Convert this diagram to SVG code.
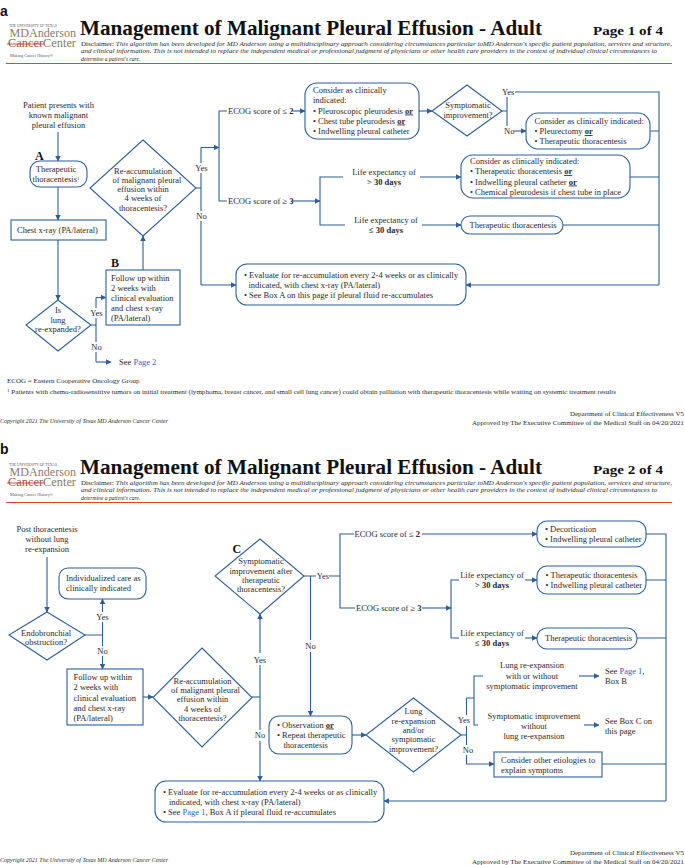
<svg xmlns="http://www.w3.org/2000/svg" width="685" height="865" viewBox="0 0 685 865">
<style>
text{font-family:"Liberation Serif","Times New Roman",serif;font-size:8.5px;fill:#2a2a2a}
.s{fill:#fff;stroke:#2f5e98;stroke-width:1.1}
.c{fill:none;stroke:#2f5e98;stroke-width:1.1}
.a{marker-end:url(#ah)}
.m{text-anchor:middle}
.lk{fill:#2f62c0}
.pl{font-family:"Liberation Sans",Arial,sans-serif;font-size:14px;font-weight:bold;fill:#111}
.t{font-size:22px;font-weight:bold;fill:#111}
.pg{font-size:13px;font-weight:bold;fill:#111}
.d{font-size:5.6px;font-style:italic}
.h{font-size:12px;font-weight:bold;fill:#111}
.f{font-size:5.4px}
.r{font-size:7px;text-anchor:end}
.l1{font-size:13px;fill:#8a7c70}
.l2{font-size:13px;fill:#9c5a50}
.l3{font-size:3.4px;fill:#555}
.b{font-weight:bold}
.u{font-weight:bold;text-decoration:underline}
</style>
<defs>
<marker id="ah" viewBox="0 0 6 6" refX="5.5" refY="3" markerWidth="5.500" markerHeight="5.500" markerUnits="userSpaceOnUse" orient="auto"><path d="M0 0L6 3L0 6Z" fill="#2f5e98"/></marker>
<g id="hdr">
<text class="l3" x="9" y="26.500" textLength="48" lengthAdjust="spacingAndGlyphs">THE UNIVERSITY OF TEXAS</text>
<text class="l1" x="9.500" y="37" textLength="66.500" lengthAdjust="spacingAndGlyphs">MDAnderson</text>
<text class="l1" x="8" y="47" textLength="68" lengthAdjust="spacingAndGlyphs"><tspan class="l2">Cancer</tspan>Center</text>
<path d="M7 44H44" stroke="#c8281e" stroke-width="0.8" fill="none"/>
<text class="l3" x="10" y="57" textLength="43" lengthAdjust="spacingAndGlyphs">Making Cancer History®</text>
<text class="t" x="80" y="35" textLength="462" lengthAdjust="spacingAndGlyphs">Management of Malignant Pleural Effusion - Adult</text>
<text class="d" x="81" y="46" textLength="591" lengthAdjust="spacingAndGlyphs"><tspan font-style="normal">Disclaimer: </tspan>This algorithm has been developed for MD Anderson using a multidisciplinary approach considering circumstances particular toMD Anderson's specific patient population, services and structure,</text>
<text class="d" x="81" y="53" textLength="576" lengthAdjust="spacingAndGlyphs">and clinical information. This is not intended to replace the independent medical or professional judgment of physicians or other health care providers in the context of individual clinical circumstances to</text>
<text class="d" x="81" y="60.500">determine a patient's care.</text>
<path d="M6 63.500H672" stroke="#e0482e" stroke-width="1.200" fill="none"/>
</g>
</defs>
<rect width="685" height="865" fill="#fff"/>

<text class="pl" x="0" y="15.500">a</text>
<use href="#hdr"/>
<text class="pg" x="593" y="35" textLength="70" lengthAdjust="spacingAndGlyphs">Page 1 of 4</text>

<g id="connectors-a">
<path class="c a" d="M58 132V161"/>
<path class="c a" d="M58 187V220"/>
<path class="c a" d="M58 240V300"/>
<path class="c" d="M91 325H96M96 297.500V308M96 318V342M96 352V362"/>
<path class="c a" d="M96 297.500H106"/>
<path class="c a" d="M96 362H111"/>
<path class="c a" d="M143 270V236"/>
<path class="c" d="M196 188H201M201 147.500V163M201 173V211M201 221V285"/>
<path class="c a" d="M201 147.500H219"/>
<path class="c a" d="M201 285H236"/>
<path class="c" d="M227 111H219V201H227"/>
<path class="c a" d="M293 111H305"/>
<path class="c a" d="M292 201H320"/>
<path class="c" d="M343 177H320V225H345"/>
<path class="c a" d="M420 177H461"/>
<path class="c a" d="M422 225H461"/>
<path class="c a" d="M419 111H432"/>
<path class="c" d="M502 111H507M507 97V126M515 92H659V285"/>
<path class="c a" d="M514 131H526"/>
<path class="c" d="M650 131H659M630 177H659M563 225H659"/>
<path class="c a" d="M659 285H466"/>
</g>

<g id="a-start"><text class="m" x="58.500" y="108">Patient presents with</text><text class="m" x="58.500" y="118">known malignant</text><text class="m" x="58.500" y="128">pleural effusion</text></g>
<g id="a-thora"><rect class="s" x="30" y="161" width="57" height="26" rx="10"/><text class="m" x="56" y="171.500">Therapeutic</text><text class="m" x="56" y="182">thoracentesis<tspan font-size="5" dy="-2.500">1</tspan></text></g>
<text class="h" x="35" y="160">A</text>
<g id="a-xray"><rect class="s" x="11" y="220" width="95" height="20"/><text class="m" x="57.500" y="232.500">Chest x-ray (PA/lateral)</text></g>
<g id="a-lung"><polygon class="s" points="58,300 91,325 58,351 26,325"/><text class="m" x="58" y="313">Is</text><text class="m" x="58" y="322.500">lung</text><text class="m" x="58" y="331.500">re-expanded?</text></g>
<g id="a-follow"><rect class="s" x="106" y="270" width="74" height="55"/><text x="111" y="281">Follow up within</text><text x="111" y="291">2 weeks with</text><text x="111" y="301">clinical evaluation</text><text x="111" y="311">and chest x-ray</text><text x="111" y="321">(PA/lateral)</text></g>
<text class="h" x="111" y="267">B</text>
<g id="a-reacc"><polygon class="s" points="143,140 196,188 143,236 90,188"/><text class="m" x="143" y="174">Re-accumulation</text><text class="m" x="147" y="183">of malignant pleural</text><text class="m" x="143" y="192">effusion within</text><text class="m" x="143" y="201">4 weeks of</text><text class="m" x="143" y="211">thoracentesis?</text></g>
<g id="a-labels"><text class="m" x="201.500" y="171">Yes</text><text class="m" x="201.500" y="219">No</text><text class="m" x="96.500" y="316">Yes</text><text class="m" x="96.500" y="350">No</text></g>
<text x="119" y="365">See <tspan class="lk">Page 2</tspan></text>
<g id="a-ecog1"><text x="228" y="113.500">ECOG score of ≤ <tspan class="b">2</tspan></text></g>
<g id="a-ecog2"><text x="228" y="204">ECOG score of ≥ <tspan class="b">3</tspan></text></g>
<g id="a-life1"><text class="m" x="384" y="174.500">Life expectancy of</text><text class="m b" x="384" y="184.500">&gt; 30 days</text></g>
<g id="a-life2"><text class="m" x="386" y="222.500">Life expectancy of</text><text class="m b" x="386" y="232.500">≤ 30 days</text></g>
<g id="a-cons1"><rect class="s" x="305" y="83" width="114" height="56" rx="12"/><text x="313" y="93">Consider as clinically</text><text x="313" y="103">indicated:</text><text x="313" y="113.500">• Pleuroscopic pleurodesis <tspan class="u">or</tspan></text><text x="313" y="123.500">• Chest tube pleurodesis <tspan class="u">or</tspan></text><text x="313" y="134">• Indwelling pleural catheter</text></g>
<g id="a-sympt"><polygon class="s" points="467,85 502,111 467,136 432,111"/><text class="m" x="468" y="108">Symptomatic</text><text class="m" x="468" y="118">improvement?</text></g>
<text x="502" y="94.500">Yes</text><text x="504" y="133.500">No</text>
<g id="a-cons2"><rect class="s" x="526" y="113" width="124" height="36" rx="12"/><text x="534.500" y="123.500">Consider as clinically indicated:</text><text x="534.500" y="134">• Pleurectomy <tspan class="u">or</tspan></text><text x="534.500" y="144">• Therapeutic thoracentesis</text></g>
<g id="a-cons3"><rect class="s" x="461" y="155" width="169" height="43" rx="12"/><text x="470" y="164">Consider as clinically indicated:</text><text x="470" y="174">• Therapeutic thoracentesis <tspan class="u">or</tspan></text><text x="470" y="184.500">• Indwelling pleural catheter <tspan class="u">or</tspan></text><text x="470" y="194.500">• Chemical pleurodesis if chest tube in place</text></g>
<g id="a-thera"><rect class="s" x="461" y="216" width="102" height="18" rx="9"/><text x="469.500" y="227.500">Therapeutic thoracentesis</text></g>
<g id="a-eval"><rect class="s" x="236" y="264" width="230" height="41" rx="11"/><text x="244" y="277.500">• Evaluate for re-accumulation every 2-4 weeks or as clinically</text><text x="248.500" y="287.500">indicated, with chest x-ray (PA/lateral)</text><text x="244" y="298">• See Box A on this page if pleural fluid re-accumulates</text></g>

<text x="7" y="382.500" style="font-size:7px">ECOG = Eastern Cooperative Oncology Group</text>
<text class="f" x="7" y="394" textLength="609" lengthAdjust="spacingAndGlyphs"><tspan font-size="4" dy="-2">1</tspan><tspan dy="2"> Patients with chemo-radiosensitive tumors on initial treatment (lymphoma, breast cancer, and small cell lung cancer) could obtain palliation with therapeutic thoracentesis while waiting on systemic treatment results</tspan></text>
<text class="f" x="0" y="423" font-style="italic" textLength="168" lengthAdjust="spacingAndGlyphs">Copyright 2021 The University of Texas MD Anderson Cancer Center</text>
<text class="r" x="684" y="416">Department of Clinical Effectiveness V5</text>
<text class="r" x="684" y="425">Approved by The Executive Committee of the Medical Staff on 04/20/2021</text>

<text class="pl" x="0" y="454">b</text>
<use href="#hdr" y="439"/>
<text class="pg" x="593" y="474" textLength="70" lengthAdjust="spacingAndGlyphs">Page 2 of 4</text>

<g id="connectors-b">
<path class="c a" d="M47 557V612"/>
<path class="c" d="M85 635H102.500V622"/>
<path class="c a" d="M102.500 612V599"/>
<path class="c" d="M102.500 635V646"/>
<path class="c a" d="M102.500 656V669"/>
<path class="c a" d="M143 697H153"/>
<path class="c" d="M252 697H260"/>
<path class="c a" d="M260 697V665M260 653V614"/>
<path class="c a" d="M260 697V730M260 741V781"/>
<path class="c" d="M304 576H316M329 576H340"/>
<path class="c a" d="M310.500 576V640M310.500 652V716"/>
<path class="c" d="M354 534H340V608H355"/>
<path class="c a" d="M422 534H537"/>
<path class="c a" d="M422 608H451"/>
<path class="c" d="M459 580H451V638H459"/>
<path class="c a" d="M525 580H537"/>
<path class="c a" d="M525 638H537"/>
<path class="c" d="M646 534H666V801M646 580H666M637 638H666M602 764H666"/>
<path class="c a" d="M666 801H384"/>
<path class="c a" d="M352 735H366"/>
<path class="c" d="M461 735H466.500M466.500 698V715M466.500 726V745M466.500 698H474M483 676H474V725H478"/>
<path class="c a" d="M466.500 755V764H494"/>
<path class="c a" d="M579 676H599"/>
<path class="c a" d="M584 725H599"/>
</g>

<g id="b-start"><text class="m" x="47" y="531.500">Post thoracentesis</text><text class="m" x="47" y="542">without lung</text><text class="m" x="47" y="552">re-expansion</text></g>
<g id="b-endo"><polygon class="s" points="47,612 85,635 47,660 9,635"/><text class="m" x="46" y="635.500">Endobronchial</text><text class="m" x="46" y="644.500">obstruction?</text></g>
<g id="b-indiv"><rect class="s" x="59" y="568" width="87" height="31" rx="9"/><text x="66" y="580.500">Individualized care as</text><text x="66" y="591">clinically indicated</text></g>
<g id="b-follow"><rect class="s" x="67" y="669" width="76" height="56"/><text x="73.500" y="680">Follow up within</text><text x="73.500" y="690">2 weeks with</text><text x="73.500" y="700.500">clinical evaluation</text><text x="73.500" y="710.500">and chest x-ray</text><text x="73.500" y="720.500">(PA/lateral)</text></g>
<g id="b-reacc"><polygon class="s" points="202,648 252,697.500 202,747 153,697.500"/><text class="m" x="202.500" y="683.500">Re-accumulation</text><text class="m" x="205.500" y="693">of malignant pleural</text><text class="m" x="202.500" y="702">effusion within</text><text class="m" x="202.500" y="711.500">4 weeks of</text><text class="m" x="202.500" y="720.500">thoracentesis?</text></g>
<g id="b-sym"><polygon class="s" points="260,539 304,576 260,614 215,576"/><text class="m" x="261" y="564">Symptomatic</text><text class="m" x="261" y="573.500">improvement after</text><text class="m" x="261" y="582.500">therapeutic</text><text class="m" x="261" y="592">thoracentesis?</text></g>
<text class="h" x="232.500" y="553">C</text>
<g id="b-labels"><text class="m" x="102.500" y="620">Yes</text><text class="m" x="102.500" y="653.500">No</text><text class="m" x="260" y="662.500">Yes</text><text class="m" x="260" y="738">No</text><text class="m" x="323" y="578.500">Yes</text><text class="m" x="310.500" y="649">No</text><text class="m" x="464" y="722.500">Yes</text><text class="m" x="468" y="752.500">No</text></g>
<g id="b-ecog1"><text x="354.500" y="536.500">ECOG score of ≤ <tspan class="b">2</tspan></text></g>
<g id="b-ecog2"><text x="356" y="610.500">ECOG score of ≥ <tspan class="b">3</tspan></text></g>
<g id="b-life1"><text class="m" x="492" y="578">Life expectancy of</text><text class="m b" x="492" y="588">&gt; 30 days</text></g>
<g id="b-life2"><text class="m" x="492" y="635.500">Life expectancy of</text><text class="m b" x="492" y="646">≤ 30 days</text></g>
<g id="b-dec"><rect class="s" x="537" y="521" width="109" height="26" rx="10"/><text x="545" y="531.500">• Decortication</text><text x="545" y="541.500">• Indwelling pleural catheter</text></g>
<g id="b-ti"><rect class="s" x="537" y="566" width="109" height="28" rx="10"/><text x="545.500" y="578">• Therapeutic thoracentesis</text><text x="545.500" y="588">• Indwelling pleural catheter</text></g>
<g id="b-th"><rect class="s" x="537" y="628" width="100" height="21" rx="10"/><text x="545" y="641">Therapeutic thoracentesis</text></g>
<g id="b-lex"><text class="m" x="532" y="668">Lung re-expansion</text><text class="m" x="532" y="678.500">with or without</text><text class="m" x="532" y="688.500">symptomatic improvement</text></g>
<g id="b-sy2"><text class="m" x="534" y="718.500">Symptomatic improvement</text><text class="m" x="534" y="728.500">without</text><text class="m" x="534" y="738.500">lung re-expansion</text></g>
<text x="605" y="673.500">See <tspan class="lk">Page 1</tspan>,</text><text x="605" y="683.500">Box B</text>
<text x="605" y="723.500">See Box C on</text><text x="605" y="733.500">this page</text>
<g id="b-obs"><rect class="s" x="269" y="716" width="83" height="38" rx="10"/><text x="277" y="727.500">• Observation <tspan class="u">or</tspan></text><text x="277" y="737.500">• Repeat therapeutic</text><text x="283.500" y="747.500">thoracentesis</text></g>
<g id="b-lung"><polygon class="s" points="413.500,698 461,735 413.500,772 366,735"/><text class="m" x="413.500" y="714">Lung</text><text class="m" x="413.500" y="723.500">re-expansion</text><text class="m" x="413.500" y="733">and/or</text><text class="m" x="413.500" y="742">symptomatic</text><text class="m" x="413.500" y="751.500">improvement?</text></g>
<g id="b-other"><rect class="s" x="494" y="752" width="108" height="25"/><text x="501" y="762.500">Consider other etiologies to</text><text x="501" y="772.500">explain symptoms</text></g>
<g id="b-eval"><rect class="s" x="155" y="781" width="229" height="41" rx="11"/><text x="163" y="794.500">• Evaluate for re-accumulation every 2-4 weeks or as clinically</text><text x="169" y="804.500">indicated, with chest x-ray (PA/lateral)</text><text x="163" y="814.500">• See <tspan class="lk">Page 1</tspan>, Box A if pleural fluid re-accumulates</text></g>

<text class="f" x="0" y="862" font-style="italic" textLength="168" lengthAdjust="spacingAndGlyphs">Copyright 2021 The University of Texas MD Anderson Cancer Center</text>
<text class="r" x="684" y="855">Department of Clinical Effectiveness V5</text>
<text class="r" x="684" y="864">Approved by The Executive Committee of the Medical Staff on 04/20/2021</text>
</svg>
